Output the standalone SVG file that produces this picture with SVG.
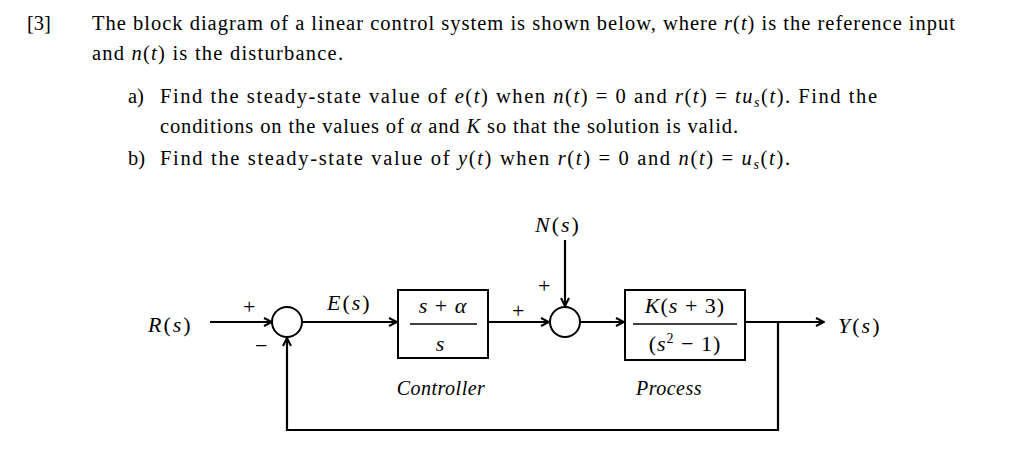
<svg xmlns="http://www.w3.org/2000/svg" width="1024" height="471" viewBox="0 0 1024 471">
<style>
text{font-family:"Liberation Serif",serif;fill:#000}
.q{font-size:20.5px}
.m{font-size:22px}
.i{font-style:italic}
.l{font-size:20px;font-style:italic}
.w{stroke:#000;stroke-width:2.2;fill:none}
.b{stroke:#000;stroke-width:2;fill:#fff}
</style>
<defs><marker id="a" markerWidth="10" markerHeight="10" refX="9" refY="5" orient="auto" markerUnits="userSpaceOnUse"><path d="M1,1 L9,5 L1,9" fill="none" stroke="#000" stroke-width="2"/></marker></defs>
<rect width="1024" height="471" fill="#fff"/>
<g id="question" class="q">
<text x="27" y="30">[3]</text>
<text x="92" y="30" textLength="863" lengthAdjust="spacing">The block diagram of a linear control system is shown below, where <tspan class="i">r</tspan>(<tspan class="i">t</tspan>) is the reference input</text>
<text x="92" y="60" textLength="251" lengthAdjust="spacing">and <tspan class="i">n</tspan>(<tspan class="i">t</tspan>) is the disturbance.</text>
<text x="128" y="103">a)</text>
<text x="160" y="103" textLength="717" lengthAdjust="spacing">Find the steady-state value of <tspan class="i">e</tspan>(<tspan class="i">t</tspan>) when <tspan class="i">n</tspan>(<tspan class="i">t</tspan>) = 0 and <tspan class="i">r</tspan>(<tspan class="i">t</tspan>) = <tspan class="i">tu<tspan font-size="14" dy="4">s</tspan></tspan><tspan dy="-4">(</tspan><tspan class="i">t</tspan>). Find the</text>
<text x="160" y="133" textLength="578" lengthAdjust="spacing">conditions on the values of <tspan class="i">α</tspan> and <tspan class="i">K</tspan> so that the solution is valid.</text>
<text x="128" y="165">b)</text>
<text x="160" y="165" textLength="630" lengthAdjust="spacing">Find the steady-state value of <tspan class="i">y</tspan>(<tspan class="i">t</tspan>) when <tspan class="i">r</tspan>(<tspan class="i">t</tspan>) = 0 and <tspan class="i">n</tspan>(<tspan class="i">t</tspan>) = <tspan class="i">u<tspan font-size="14" dy="4">s</tspan></tspan><tspan dy="-4">(</tspan><tspan class="i">t</tspan>).</text>
</g>
<g id="connectors">
<path class="w" d="M210,322 H272" marker-end="url(#a)"/>
<path class="w" d="M302,322 H397" marker-end="url(#a)"/>
<path class="w" d="M489,322 H549" marker-end="url(#a)"/>
<path class="w" d="M565,240 V306" marker-end="url(#a)"/>
<path class="w" d="M581,322 H624" marker-end="url(#a)"/>
<path class="w" d="M746,322 H824" marker-end="url(#a)"/>
<path class="w" d="M778,322 V430 H287 V338" marker-end="url(#a)"/>
</g>
<g id="sum1"><circle class="b" cx="287" cy="322" r="15"/></g>
<g id="sum2"><circle class="b" cx="565" cy="322" r="15"/></g>
<g id="controller">
<rect class="b" x="398" y="290" width="90" height="68"/>
<text class="m i" x="443" y="313" text-anchor="middle" letter-spacing="1">s <tspan font-style="normal">+</tspan> α</text>
<line x1="410" y1="324" x2="477" y2="324" stroke="#000" stroke-width="1.5"/>
<text class="m i" x="440" y="351" text-anchor="middle">s</text>
<text class="l" x="441" y="395" text-anchor="middle" letter-spacing="0.5">Controller</text>
</g>
<g id="process">
<rect class="b" x="625" y="290" width="120" height="70"/>
<text class="m" x="685" y="313" text-anchor="middle" letter-spacing="1"><tspan class="i">K</tspan>(<tspan class="i">s</tspan> + 3)</text>
<line x1="633" y1="324" x2="737" y2="324" stroke="#000" stroke-width="1.5"/>
<text class="m" x="685" y="351" text-anchor="middle" letter-spacing="1">(<tspan class="i">s</tspan><tspan font-size="14" dy="-8">2</tspan><tspan dy="8"> − 1)</tspan></text>
<text class="l" x="669" y="395" text-anchor="middle" letter-spacing="0.5">Process</text>
</g>
<g id="labels" class="m">
<text x="148" y="332" letter-spacing="2"><tspan class="i">R</tspan>(<tspan class="i">s</tspan>)</text>
<text x="327" y="310" letter-spacing="2"><tspan class="i">E</tspan>(<tspan class="i">s</tspan>)</text>
<text x="535" y="232" letter-spacing="2"><tspan class="i">N</tspan>(<tspan class="i">s</tspan>)</text>
<text x="838" y="333" letter-spacing="2"><tspan class="i">Y</tspan>(<tspan class="i">s</tspan>)</text>
<text x="243" y="314">+</text>
<text x="255" y="353">−</text>
<text x="512" y="318">+</text>
<text x="538" y="293">+</text>
</g>
</svg>
